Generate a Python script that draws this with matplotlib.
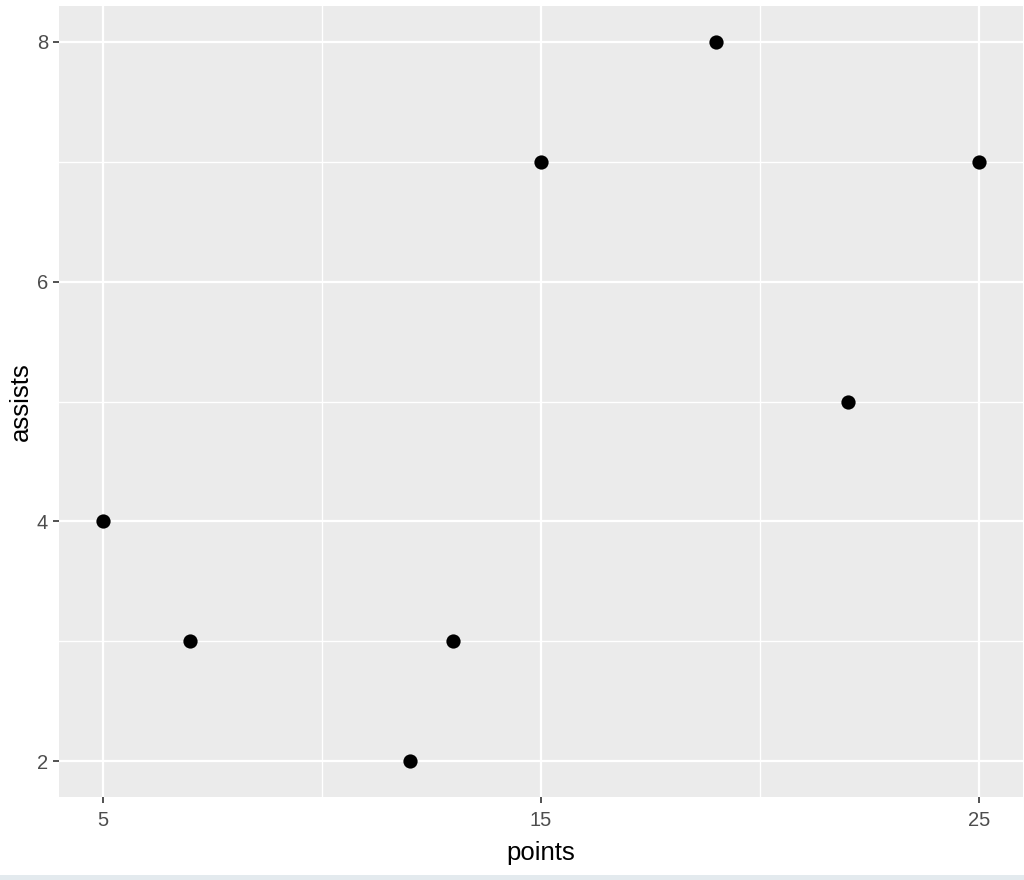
import matplotlib
matplotlib.use("Agg")
import matplotlib.pyplot as plt
from matplotlib.patches import Rectangle

points = [5, 7, 12, 13, 15, 19, 22, 25]
assists = [4, 3, 2, 3, 7, 8, 5, 7]
x_ticks = [5, 15, 25]
y_ticks = [2, 4, 6, 8]
x_minor = [10, 20]
y_minor = [3, 5, 7]

plt.rcParams['font.family'] = ['Liberation Sans', 'DejaVu Sans']

W, H = 1024, 880
fig = plt.figure(figsize=(W / 100, H / 100), dpi=100)
left, right, top, bottom = 59, 1023, 6, 797
ax = fig.add_axes([left / W, (H - bottom) / H, (right - left) / W, (bottom - top) / H])
ax.set_facecolor('#EBEBEB')
for s in ax.spines.values():
    s.set_visible(False)

ax.set_xlim(4, 26)
ax.set_ylim(1.7, 8.3)
ax.set_xticks(x_ticks)
ax.set_yticks(y_ticks)
ax.set_xticks(x_minor, minor=True)
ax.set_yticks(y_minor, minor=True)
ax.grid(which='major', color='white', linewidth=1.6)
ax.grid(which='minor', color='white', linewidth=1.0)
ax.set_axisbelow(True)
ax.tick_params(which='major', length=4, width=1.2, color='#333333',
               labelsize=14.5, labelcolor='#4D4D4D')
ax.tick_params(axis='x', which='major', pad=6)
ax.tick_params(axis='y', which='major', pad=4)
ax.tick_params(which='minor', length=0)

ax.scatter(points, assists, s=105, color='black', zorder=3, linewidths=0)

ax.set_xlabel('points', fontsize=18.5, color='black', labelpad=8)
ax.set_ylabel('assists', fontsize=18.5, color='black', labelpad=3)

fig.patches.append(Rectangle((0, 0), 1, 5 / H, transform=fig.transFigure,
                             facecolor='#E3EAEE', edgecolor='none'))

fig.savefig('out.png', dpi=100)
